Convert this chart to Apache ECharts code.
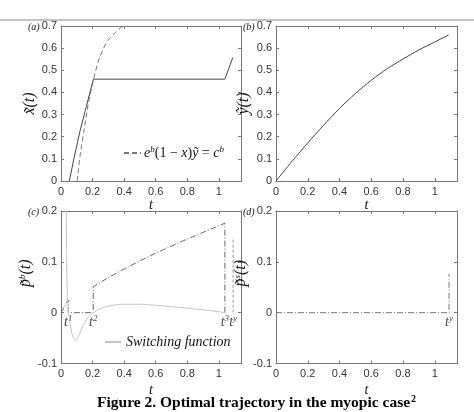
<!DOCTYPE html>
<html>
<head>
<meta charset="utf-8">
<script src="https://cdn.jsdelivr.net/npm/echarts@6/dist/echarts.min.js"></script>
<style>
  html, body { margin: 0; padding: 0; background: #fff; }
  #fig { width: 474px; height: 412px; }
</style>
</head>
<body>
<div id="fig"></div>
<script>
'use strict';
// panel (a): state x~(t) and the boundary curve
const xState = [[0.053, 0], [0.08, 0.095], [0.12, 0.225], [0.16, 0.335], [0.205, 0.46], [1.038, 0.46], [1.088, 0.558]];
const xBoundary = [[0.103, 0], [0.11, 0.05], [0.12, 0.11], [0.146, 0.23], [0.173, 0.35], [0.205, 0.455], [0.236, 0.54], [0.27, 0.6], [0.3, 0.637], [0.35, 0.675], [0.4, 0.705]];
// panel (b): state y~(t)
const yState = [[0, 0], [0.1, 0.088], [0.2, 0.172], [0.3, 0.252], [0.4, 0.328], [0.5, 0.395], [0.6, 0.455], [0.7, 0.507], [0.8, 0.551], [0.9, 0.592], [1.0, 0.628], [1.088, 0.66]];
// panel (c): costate p~b(t), t^y line and switching function
const pbCostate = [[0, 0], [0.02, 0.011], [0.046, 0.025], [0.046, 0], [0.204, 0], [0.204, 0.051], [0.3, 0.069], [0.4, 0.086], [0.5, 0.102], [0.6, 0.117], [0.7, 0.131], [0.8, 0.145], [0.9, 0.158], [1.038, 0.176], [1.038, 0]];
const pbTy = [[1.09, 0], [1.09, 0.148]];
const switching = [[0.032, 0.3], [0.036, 0.1], [0.042, 0.02], [0.05, -0.006], [0.06, -0.026], [0.07, -0.042], [0.08, -0.051], [0.09, -0.054], [0.1, -0.052], [0.12, -0.04], [0.14, -0.025], [0.17, -0.01], [0.204, 0], [0.25, 0.008], [0.3, 0.013], [0.38, 0.0165], [0.5, 0.0165], [0.6, 0.0145], [0.7, 0.012], [0.8, 0.0088], [0.9, 0.0055], [1.0, 0.002], [1.038, 0]];
// panel (d): costate p~s(t)
const psCostate = [[0, 0], [1.09, 0], [1.09, 0.076]];
// switching time marks
const marksC = [[0.046, 0, '1'], [0.204, 0, '2'], [1.038, 0, '3'], [1.09, 0, 'y']];
const marksD = [[1.09, 0, 'y']];
const yNames = ['{n|x̃(t)}', '{n|ỹ(t)}', '{n|p̃}{s|b}{n|(t)}', '{n|p̃}{s|s}{n|(t)}'];
const panelTags = ['(a)', '(b)', '(c)', '(d)'];

{
    let dom = document.getElementById('fig');
    let myChart = echarts.init(dom, null, {renderer: 'canvas'});

    const serif = 'Liberation Serif';
    const sans = 'Liberation Sans';
    const mathRich = {
        i: {fontFamily: serif, fontStyle: 'italic', fontSize: 14, color: '#111'},
        n: {fontFamily: serif, fontStyle: 'italic', fontSize: 16, color: '#111'},
        r: {fontFamily: serif, fontSize: 14, color: '#111'},
        s: {fontFamily: serif, fontStyle: 'italic', fontSize: 9, color: '#111', verticalAlign: 'top', padding: [0, 0, 7, 0]}
    };

    let grids = [
        {left: 61, top: 26, width: 180, height: 155},
        {left: 276, top: 26, width: 181, height: 155},
        {left: 61, top: 211, width: 180, height: 152.5},
        {left: 276, top: 211, width: 181, height: 152.5}
    ];
    let yRange = [[0, 0.7], [0, 0.7], [-0.1, 0.2], [-0.1, 0.2]];
    let yGaps = [22, 24, 22, 24];
    let tGaps = [17, 17, 20, 20];

    let xAxes = [];
    let yAxes = [];
    grids.forEach(function (g, k) {
        let base = {
            gridIndex: k, type: 'value', min: 0, max: 1.14, interval: 0.2,
            axisLine: {show: true, onZero: false, lineStyle: {color: '#777', width: 1}},
            axisTick: {show: true, inside: true, length: 3, lineStyle: {color: '#777'}},
            splitLine: {show: false}
        };
        xAxes.push(Object.assign({}, base, {
            position: 'bottom',
            axisLabel: {fontFamily: sans, fontSize: 11, color: '#333', margin: 5, showMaxLabel: false},
            name: 't', nameLocation: 'middle', nameGap: tGaps[k],
            nameTextStyle: {fontFamily: serif, fontStyle: 'italic', fontSize: 14, color: '#111'}
        }));
        xAxes.push(Object.assign({}, base, {position: 'top', axisLabel: {show: false}}));
        let ybase = {
            gridIndex: k, type: 'value', min: yRange[k][0], max: yRange[k][1], interval: 0.1,
            axisLine: {show: true, onZero: false, lineStyle: {color: '#777', width: 1}},
            axisTick: {show: true, inside: true, length: 3, lineStyle: {color: '#777'}},
            splitLine: {show: false}
        };
        yAxes.push(Object.assign({}, ybase, {
            position: 'left',
            axisLabel: {fontFamily: sans, fontSize: 11, color: '#333', margin: 4},
            name: yNames[k], nameLocation: 'middle', nameRotate: 90, nameGap: yGaps[k],
            nameTextStyle: {rich: mathRich, padding: k >= 2 ? [0, 0, 0, 28] : 0}
        }));
        yAxes.push(Object.assign({}, ybase, {position: 'right', axisLabel: {show: false}}));
    });

    function line(name, k, data, color, type, extra) {
        return Object.assign({
            name: name, type: 'line', xAxisIndex: 2 * k, yAxisIndex: 2 * k,
            data: data, showSymbol: false, symbol: 'none', animation: false,
            lineStyle: {color: color, width: 1, type: type},
            itemStyle: {color: color}
        }, extra || {});
    }

    function markSeries(k, data) {
        return {
            type: 'scatter', xAxisIndex: 2 * k, yAxisIndex: 2 * k,
            data: data, symbolSize: 1, itemStyle: {color: 'rgba(0,0,0,0)'},
            silent: true, animation: false,
            label: {
                show: true, position: 'bottom', distance: 1,
                formatter: function (p) { return '{i|t}{s|' + p.data[2] + '}'; },
                rich: mathRich
            }
        };
    }

    const legendA = 'boundary';
    const legendC = 'switch';
    const noSymbol = {color: 'rgba(0,0,0,0)', borderColor: 'rgba(0,0,0,0)', borderWidth: 0};

    let option = {
        backgroundColor: '#fff',
        animation: false,
        title: {
            text: '{b|Figure 2. Optimal trajectory in the myopic case}{s|2}',
            left: 92, top: 389,
            textStyle: {
                rich: {
                    b: {fontFamily: serif, fontWeight: 'bold', fontSize: 15.5, color: '#000'},
                    s: {fontFamily: serif, fontWeight: 'bold', fontSize: 10, color: '#000', verticalAlign: 'top', padding: [0, 0, 8, 1]}
                }
            }
        },
        grid: grids,
        xAxis: xAxes,
        yAxis: yAxes,
        legend: [
            {
                data: [legendA], left: 123, top: 145, padding: 0, itemWidth: 17, itemHeight: 10, itemGap: 4,
                selectedMode: false, itemStyle: noSymbol,
                formatter: function () { return '{i|e}{s|b}{r|(1 − }{i|x}{r|)}{i|ỹ}{r| = }{i|c}{s|b}'; },
                textStyle: {rich: mathRich, padding: [0, 0, 0, -2]}
            },
            {
                data: [legendC], left: 104, top: 335, padding: 0, itemWidth: 16, itemHeight: 10, itemGap: 4,
                selectedMode: false, itemStyle: noSymbol,
                formatter: function () { return '{i|Switching function}'; },
                textStyle: {rich: mathRich}
            }
        ],
        graphic: [
            {type: 'line', shape: {x1: 0, y1: 20, x2: 474, y2: 20}, style: {stroke: '#888', lineWidth: 1.2}},
            ...panelTags.map(function (tag, k) {
                return {
                    type: 'text', left: k % 2 ? 243 : 28, top: k < 2 ? 22 : 207,
                    style: {text: tag, font: 'italic 10px "Liberation Serif"', fill: '#111'}
                };
            })
        ],
        series: [
            line('state', 0, xState, '#444', 'solid'),
            line(legendA, 0, xBoundary, '#777', [5, 3], {smooth: 0.25}),
            line('yState', 1, yState, '#444', 'solid', {smooth: 0.25}),
            line('pb', 2, pbCostate, '#666', [6, 2, 1, 2]),
            line('pbTy', 2, pbTy, '#999', [3, 2]),
            line(legendC, 2, switching, '#c4c4c4', 'solid', {smooth: 0.2}),
            line('ps', 3, psCostate, '#777', [6, 2, 1, 2]),
            markSeries(2, marksC),
            markSeries(3, marksD)
        ]
    };
    if (option && typeof option === 'object') {
        myChart.setOption(option, true);
    }
}
</script>
</body>
</html>
